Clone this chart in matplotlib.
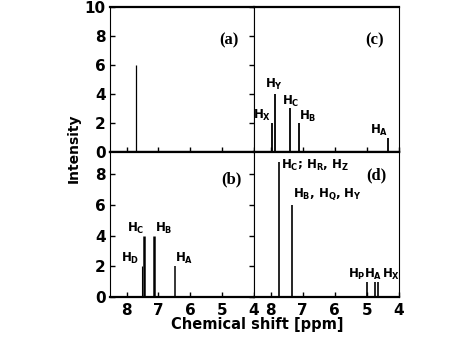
import matplotlib
matplotlib.use('Agg')
import matplotlib.pyplot as plt

# panel (a) - top left
shift_a = [7.69]
height_a = [6]

# panel (c) - top right
shift_c = [7.95, 7.87, 7.40, 7.11, 4.34]
height_c = [2, 4, 3, 2, 0.9]
labels_c = ['H$_X$', 'H$_Y$', 'H$_C$', 'H$_B$', 'H$_A$']

# panel (b) - bottom left
shift_b = [7.51, 7.44, 7.14, 6.49]
height_b = [2, 4, 4, 2]
labels_b = ['H$_D$', 'H$_C$', 'H$_B$', 'H$_A$']

# panel (d) - bottom right
shift_d = [7.75, 7.33, 5.00, 4.74, 4.64]
height_d = [8.8, 6, 1, 1, 1]
labels_d = ['H$_C$; H$_R$, H$_Z$', 'H$_B$, H$_Q$, H$_Y$', 'H$_P$', 'H$_A$', 'H$_X$']

xticks = [8, 7, 6, 5, 4]

plt.rcParams['font.family'] = 'DejaVu Sans'
plt.rcParams['font.weight'] = 'bold'
plt.rcParams['mathtext.fontset'] = 'dejavusans'
plt.rcParams['mathtext.default'] = 'bf'

W, H = 474, 351
fig = plt.figure(figsize=(W / 100, H / 100), dpi=100)


def px_axes(x0, y0, x1, y1):
    return fig.add_axes([x0 / W, 1 - y1 / H, (x1 - x0) / W, (y1 - y0) / H])


ax_a = px_axes(110, 7, 254, 151.5)
ax_c = px_axes(254, 7, 399, 151.5)
ax_b = px_axes(110, 151.5, 254, 297)
ax_d = px_axes(254, 151.5, 399, 297)


def style(ax, top, left):
    ax.set_xlim(8.52, 4)
    ax.set_xticks(xticks)
    if top:
        ax.set_ylim(0, 10)
        ax.set_yticks([0, 2, 4, 6, 8, 10])
    else:
        ax.set_ylim(0, 9.5)
        ax.set_yticks([0, 2, 4, 6, 8])
    for s in ['top', 'bottom']:
        ax.spines[s].set_linewidth(1.6)
    for s in ['left', 'right']:
        ax.spines[s].set_linewidth(0.8)
    ax.tick_params(axis='x', direction='in', length=3.5, width=1,
                   labelbottom=not top, labelsize=11, pad=4)
    if left:
        ax.tick_params(axis='y', direction='in', length=3.5, width=1,
                       left=True, right=True, labelsize=11, pad=3)
    else:
        ax.tick_params(axis='y', left=False, labelleft=False)


style(ax_a, True, True)
style(ax_c, True, False)
style(ax_b, False, True)
style(ax_d, False, False)

ax_a.vlines(shift_a, 0, height_a, colors='black', linewidth=0.9)
ax_c.vlines(shift_c, 0, height_c, colors='black', linewidth=1.3)
ax_b.vlines(shift_b, 0, height_b, colors='black', linewidth=[0.8, 1.8, 1.8, 1.1])
ax_d.vlines(shift_d, 0, height_d, colors='black', linewidth=1.2)

# label offsets in points: (dx, dy, ha, va)
offs_c = [(-1, 0, 'right', 'bottom'), (-0.7, 1.4, 'center', 'bottom'),
          (0.7, -0.7, 'center', 'bottom'), (0, -0.7, 'left', 'bottom'),
          (0, 0.7, 'right', 'bottom')]
offs_b = [(-2.4, 0, 'right', 'bottom'), (0, 0, 'right', 'bottom'),
          (0.7, 0, 'left', 'bottom'), (0, 0, 'left', 'bottom')]
offs_d = [(1.5, 3.4, 'left', 'top'), (0.4, 2, 'left', 'bottom'),
          (-1.2, 0, 'right', 'bottom'), (-1.4, 0, 'center', 'bottom'),
          (2.4, 0, 'left', 'bottom')]

for ax, xs, hs, labs, offs in [(ax_c, shift_c, height_c, labels_c, offs_c),
                               (ax_b, shift_b, height_b, labels_b, offs_b),
                               (ax_d, shift_d, height_d, labels_d, offs_d)]:
    for x, h, lab, (dx, dy, ha, va) in zip(xs, hs, labs, offs):
        ax.annotate(lab, xy=(x, h), xytext=(dx, dy), textcoords='offset points',
                    ha=ha, va=va, fontsize=8.5, fontweight='bold')

for ax, lab, px, py in [(ax_a, '(a)', 0.826, 0.771), (ax_c, '(c)', 0.834, 0.771),
                        (ax_b, '(b)', 0.84, 0.807), (ax_d, '(d)', 0.841, 0.834)]:
    ax.text(px, py, lab, transform=ax.transAxes, ha='center', va='center',
            fontsize=12, fontweight='bold', family='Liberation Serif')

fig.text(257 / W, 1 - 325 / H, 'Chemical shift [ppm]', ha='center', va='center',
         fontsize=10.5, fontweight='bold')
fig.text(74 / W, 1 - 148 / H, 'Intensity', ha='center', va='center',
         rotation=90, fontsize=10, fontweight='bold')

fig.savefig('out.png', dpi=100)
